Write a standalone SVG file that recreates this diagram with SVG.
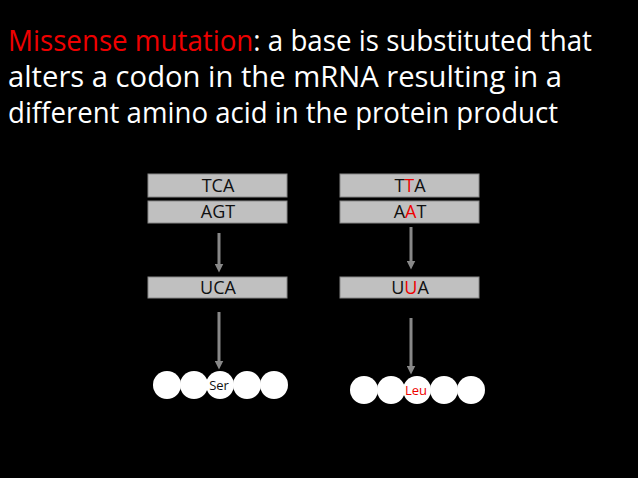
<svg xmlns="http://www.w3.org/2000/svg" width="638" height="478" viewBox="0 0 638 478">
<style>
.t{font-family:"Open Sans","Noto Sans",sans-serif;font-size:29px;fill:#fff}
.b{fill:#c0c0c0;stroke:#888;stroke-width:1}
.bt{font-family:"Open Sans","Noto Sans",sans-serif;font-size:18px;fill:#111;text-anchor:middle}
.r{fill:#e00}
.c{fill:#fff}
.a{stroke:#888;stroke-width:3;fill:none}
</style>
<defs><marker id="ah" markerWidth="3" markerHeight="3" refX="1.5" refY="1.5" orient="auto"><path d="M0,0L3,1.5L0,3z" fill="#888"/></marker></defs>
<rect width="638" height="478" fill="#000"/>
<g id="title">
<text class="t" x="8" y="51" textLength="584" lengthAdjust="spacingAndGlyphs"><tspan fill="#e00">Missense mutation</tspan>: a base is substituted that</text>
<text class="t" x="8" y="87" textLength="554" lengthAdjust="spacingAndGlyphs">alters a codon in the mRNA resulting in a</text>
<text class="t" x="8" y="123" textLength="550" lengthAdjust="spacingAndGlyphs">different amino acid in the protein product</text>
</g>
<g id="tca"><rect class="b" x="148" y="174" width="139" height="23"/><text class="bt" x="218" y="192">TCA</text></g>
<g id="agt"><rect class="b" x="148" y="201" width="139" height="22"/><text class="bt" x="218" y="218">AGT</text></g>
<g id="uca"><rect class="b" x="148" y="277" width="139" height="21"/><text class="bt" x="218" y="294">UCA</text></g>
<g id="tta"><rect class="b" x="340" y="174" width="139" height="23"/><text class="bt" x="410" y="192">T<tspan class="r">T</tspan>A</text></g>
<g id="aat"><rect class="b" x="340" y="201" width="139" height="22"/><text class="bt" x="410" y="218">A<tspan class="r">A</tspan>T</text></g>
<g id="uua"><rect class="b" x="340" y="277" width="139" height="21"/><text class="bt" x="410" y="294">U<tspan class="r">U</tspan>A</text></g>
<g id="connectors">
<line class="a" x1="219" y1="233" x2="219" y2="268" marker-end="url(#ah)"/>
<line class="a" x1="411" y1="227" x2="411" y2="265" marker-end="url(#ah)"/>
<line class="a" x1="219" y1="312" x2="219" y2="365" marker-end="url(#ah)"/>
<line class="a" x1="411" y1="318" x2="411" y2="370" marker-end="url(#ah)"/>
</g>
<g id="ser">
<circle class="c" cx="167" cy="385" r="14"/><circle class="c" cx="194" cy="385" r="14"/><circle class="c" cx="220" cy="385" r="14"/><circle class="c" cx="247" cy="385" r="14"/><circle class="c" cx="274" cy="385" r="14"/>
<text x="219" y="390" font-family="Open Sans,sans-serif" font-size="13" fill="#111" text-anchor="middle">Ser</text>
</g>
<g id="leu">
<circle class="c" cx="364" cy="390" r="14"/><circle class="c" cx="391" cy="390" r="14"/><circle class="c" cx="417" cy="390" r="14"/><circle class="c" cx="444" cy="390" r="14"/><circle class="c" cx="471" cy="390" r="14"/>
<text x="416" y="395" font-family="Open Sans,sans-serif" font-size="13" fill="#e00" text-anchor="middle">Leu</text>
</g>
</svg>
